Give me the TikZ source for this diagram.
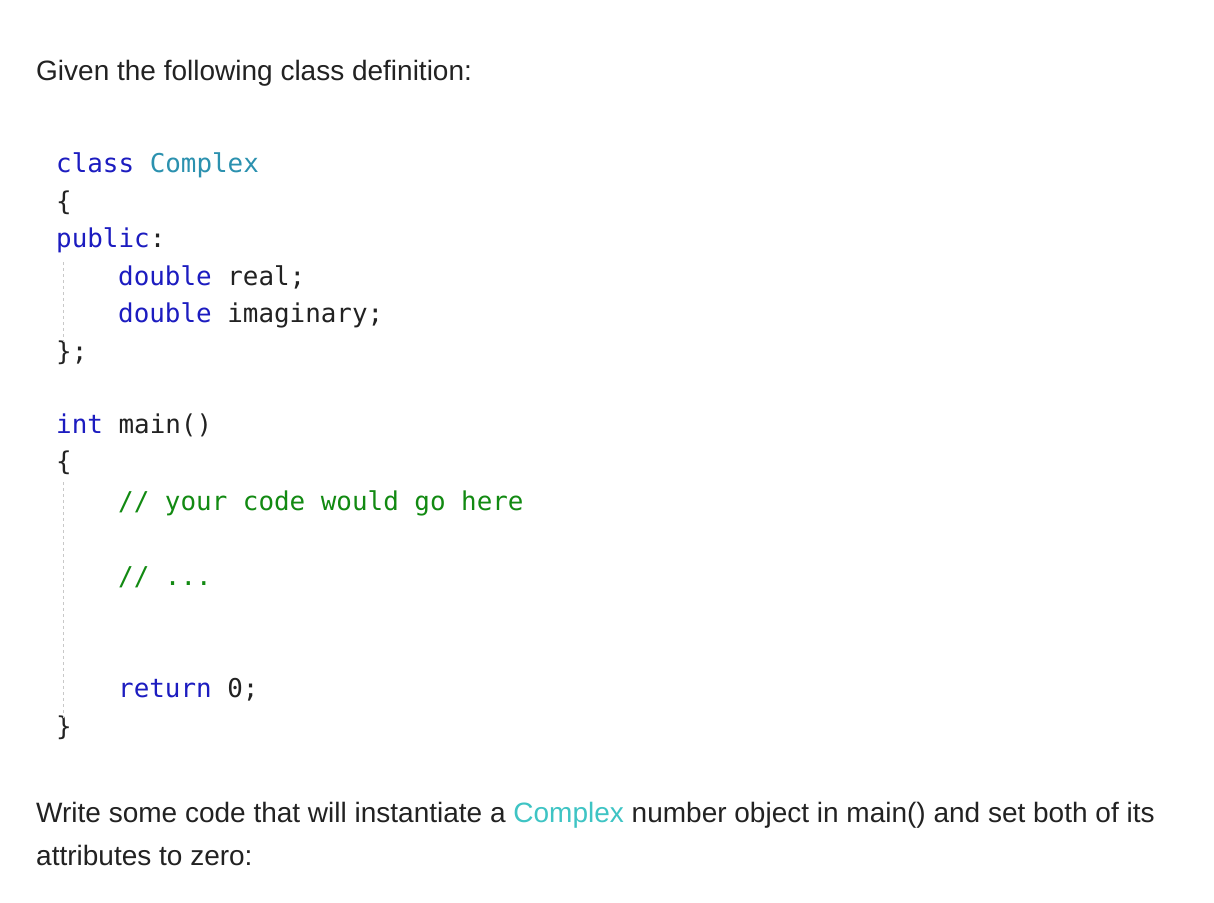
\documentclass[tikz,border=0pt]{standalone}
\usepackage{fontspec}
\setmainfont{Liberation Sans}
\newfontfamily\codefont{DejaVu Sans Mono}
\definecolor{kw}{HTML}{1C1CC0}
\definecolor{ty}{HTML}{2B91AF}
\definecolor{cm}{HTML}{128A12}
\definecolor{tx}{HTML}{222222}
\definecolor{lk}{HTML}{3EC4C4}
\definecolor{guide}{HTML}{C8C8C8}
\tikzset{
  body/.style={anchor=base west, inner sep=0pt, text=tx, font=\fontsize{28}{32}\selectfont},
  code/.style={anchor=base west, inner sep=0pt, text=tx, font=\codefont\fontsize{25.9}{30}\selectfont},
  guideline/.style={draw=guide, dash pattern=on 3pt off 3pt, line width=1pt}
}
\begin{document}
\begin{tikzpicture}[x=1pt,y=-1pt]
\useasboundingbox[fill=white] (0,0) rectangle (1214,902);
\node[body] (t1) at (36,80) {Given the following class definition:};
\node[code] (c1) at (56,172) {\textcolor{kw}{class} \textcolor{ty}{Complex}};
\node[code] (c2) at (56,210) {\{};
\node[code] (c3) at (56,247) {\textcolor{kw}{public}:};
\node[code] (c4) at (118,285) {\textcolor{kw}{double} real;};
\node[code] (c5) at (118,322) {\textcolor{kw}{double} imaginary;};
\node[code] (c6) at (56,360) {\};};
\node[code] (c7) at (56,433) {\textcolor{kw}{int} main()};
\node[code] (c8) at (56,470) {\{};
\node[code] (c9) at (118,510) {\textcolor{cm}{// your code would go here}};
\node[code] (c10) at (118,585) {\textcolor{cm}{// ...}};
\node[code] (c11) at (118,697) {\textcolor{kw}{return} 0;};
\node[code] (c12) at (56,735) {\}};
\coordinate (g1a) at (63,262); \coordinate (g1b) at (63,342);
\coordinate (g2a) at (63,482); \coordinate (g2b) at (63,718);
\draw[guideline] (g1a) -- (g1b);
\draw[guideline] (g2a) -- (g2b);
\node[body] (t2) at (36,822) {Write some code that will instantiate a \textcolor{lk}{Complex} number object in main() and set both of its};
\node[body] (t3) at (36,865) {attributes to zero:};
\end{tikzpicture}
\end{document}
